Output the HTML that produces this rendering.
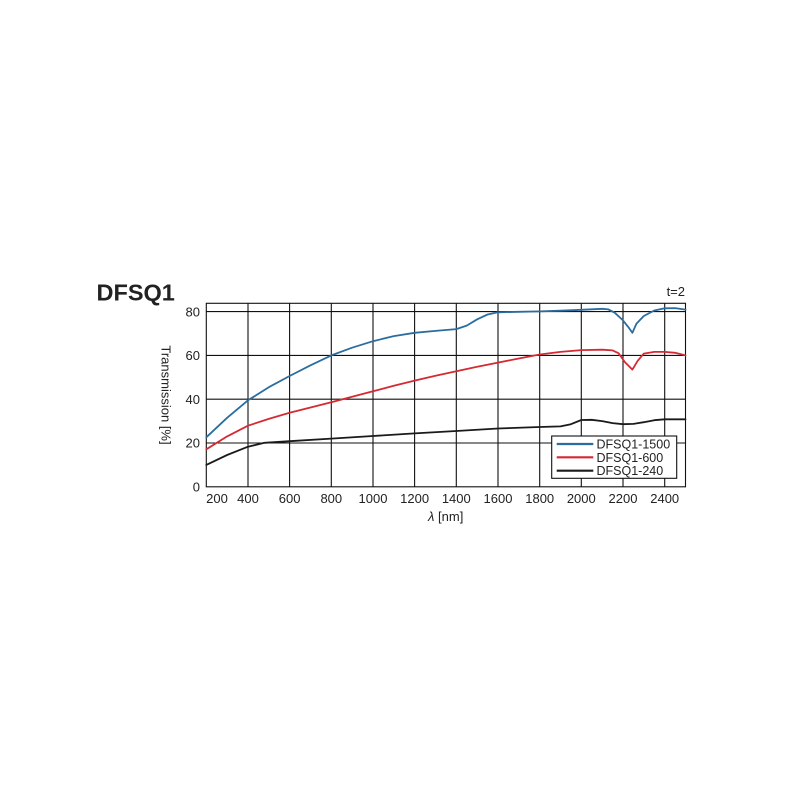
<!DOCTYPE html>
<html>
<head>
<meta charset="utf-8">
<style>
  html, body { margin:0; padding:0; background:#ffffff; }
  svg { display:block; }
  text { font-family: "Liberation Sans", Arial, sans-serif; fill:#222; }
</style>
</head>
<body>
<svg width="800" height="800" viewBox="0 0 800 800" xmlns="http://www.w3.org/2000/svg">
  <rect width="800" height="800" fill="#ffffff"/>

  <!-- Title -->
  <text x="96.5" y="300.5" font-size="23.5" font-weight="bold" fill="#1a1a1a">DFSQ1</text>
  <text x="685" y="296" font-size="13" text-anchor="end">t=2</text>

  <!-- Grid -->
  <g stroke="#111" stroke-width="1.1" fill="none">
    <line x1="206.3" y1="311.6" x2="685.5" y2="311.6"/>
    <line x1="206.3" y1="355.4" x2="685.5" y2="355.4"/>
    <line x1="206.3" y1="399.2" x2="685.5" y2="399.2"/>
    <line x1="206.3" y1="443.0" x2="685.5" y2="443.0"/>
    <line x1="248.0" y1="303.3" x2="248.0" y2="486.8"/>
    <line x1="289.6" y1="303.3" x2="289.6" y2="486.8"/>
    <line x1="331.3" y1="303.3" x2="331.3" y2="486.8"/>
    <line x1="373.0" y1="303.3" x2="373.0" y2="486.8"/>
    <line x1="414.6" y1="303.3" x2="414.6" y2="486.8"/>
    <line x1="456.3" y1="303.3" x2="456.3" y2="486.8"/>
    <line x1="498.0" y1="303.3" x2="498.0" y2="486.8"/>
    <line x1="539.7" y1="303.3" x2="539.7" y2="486.8"/>
    <line x1="581.3" y1="303.3" x2="581.3" y2="486.8"/>
    <line x1="623.0" y1="303.3" x2="623.0" y2="486.8"/>
    <line x1="664.7" y1="303.3" x2="664.7" y2="486.8"/>
    <rect x="206.3" y="303.3" width="479.2" height="183.5"/>
  </g>

  <!-- Y tick labels -->
  <g font-size="13" text-anchor="end">
    <text x="200" y="316.3">80</text>
    <text x="200" y="360.1">60</text>
    <text x="200" y="403.9">40</text>
    <text x="200" y="447.7">20</text>
    <text x="200" y="491.5">0</text>
  </g>

  <!-- X tick labels -->
  <g font-size="13" text-anchor="middle">
    <text x="217" y="503">200</text>
    <text x="248" y="503">400</text>
    <text x="289.6" y="503">600</text>
    <text x="331.3" y="503">800</text>
    <text x="373" y="503">1000</text>
    <text x="414.6" y="503">1200</text>
    <text x="456.3" y="503">1400</text>
    <text x="498" y="503">1600</text>
    <text x="539.7" y="503">1800</text>
    <text x="581.3" y="503">2000</text>
    <text x="623" y="503">2200</text>
    <text x="664.7" y="503">2400</text>
  </g>

  <!-- Axis labels -->
  <text x="0" y="0" font-size="13" text-anchor="middle" transform="translate(161.5,395) rotate(90)">Transmission [%]</text>
  <text x="428" y="521" font-size="13"><tspan font-style="italic">λ</tspan>  [nm]</text>

  <!-- Series -->
  <g fill="none" stroke-width="1.8" stroke-linejoin="round" stroke-linecap="round">
    <polyline stroke="#2a6d9e" points="
      206.3,437.3 227.1,417.8 248.0,400.3 268.8,387.2 289.6,376.0 310.5,365.3 331.3,355.4
      352.1,347.7 373.0,341.2 393.8,336.1 414.6,332.8 435.5,330.9 456.3,329.1 466.7,325.6
      477.2,319.3 487.6,314.5 498.0,312.3 518.8,311.8 539.7,311.4 560.5,310.7 581.3,309.8
      602.2,308.8 608.4,309.4 614.7,312.7 623.0,320.4 628.2,326.9 632.4,332.8 636.5,323.6
      643.8,316.0 654.3,310.5 664.7,308.3 675.1,308.1 685.5,309.6"/>
    <polyline stroke="#d42a33" points="
      206.3,449.3 227.1,436.4 248.0,425.7 268.8,418.9 289.6,412.8 310.5,407.5 331.3,402.3
      352.1,396.8 373.0,391.3 393.8,385.8 414.6,380.6 435.5,375.8 456.3,371.2 477.2,366.8
      498.0,362.6 518.8,358.5 539.7,354.5 560.5,351.9 581.3,350.1 602.2,349.7 612.6,350.4
      618.5,353.2 624.8,362.0 632.4,369.6 637.6,360.9 643.8,353.6 654.3,351.9 664.7,351.9
      675.1,352.8 685.5,355.4"/>
    <polyline stroke="#1a1a1a" points="
      206.3,464.9 227.1,455.0 248.0,446.7 264.6,442.8 289.6,441.2 331.3,438.6 373.0,436.0
      414.6,433.4 456.3,431.0 498.0,428.5 539.7,427.0 560.5,426.4 570.9,424.2 581.3,420.0
      591.7,419.8 602.2,421.1 612.6,423.1 623.0,424.2 633.4,423.9 643.8,422.2 654.3,420.2
      664.7,419.3 685.5,419.3"/>
  </g>

  <!-- Legend -->
  <rect x="551.7" y="436" width="125" height="42.3" fill="#ffffff" stroke="#111" stroke-width="1.1"/>
  <g stroke-width="2.2">
    <line x1="556.7" y1="444" x2="593.3" y2="444" stroke="#2a6d9e"/>
    <line x1="556.7" y1="457.3" x2="593.3" y2="457.3" stroke="#d42a33"/>
    <line x1="556.7" y1="470.7" x2="593.3" y2="470.7" stroke="#1a1a1a"/>
  </g>
  <g font-size="12.5">
    <text x="596.5" y="448.5">DFSQ1-1500</text>
    <text x="596.5" y="461.8">DFSQ1-600</text>
    <text x="596.5" y="475.2">DFSQ1-240</text>
  </g>
</svg>
</body>
</html>
